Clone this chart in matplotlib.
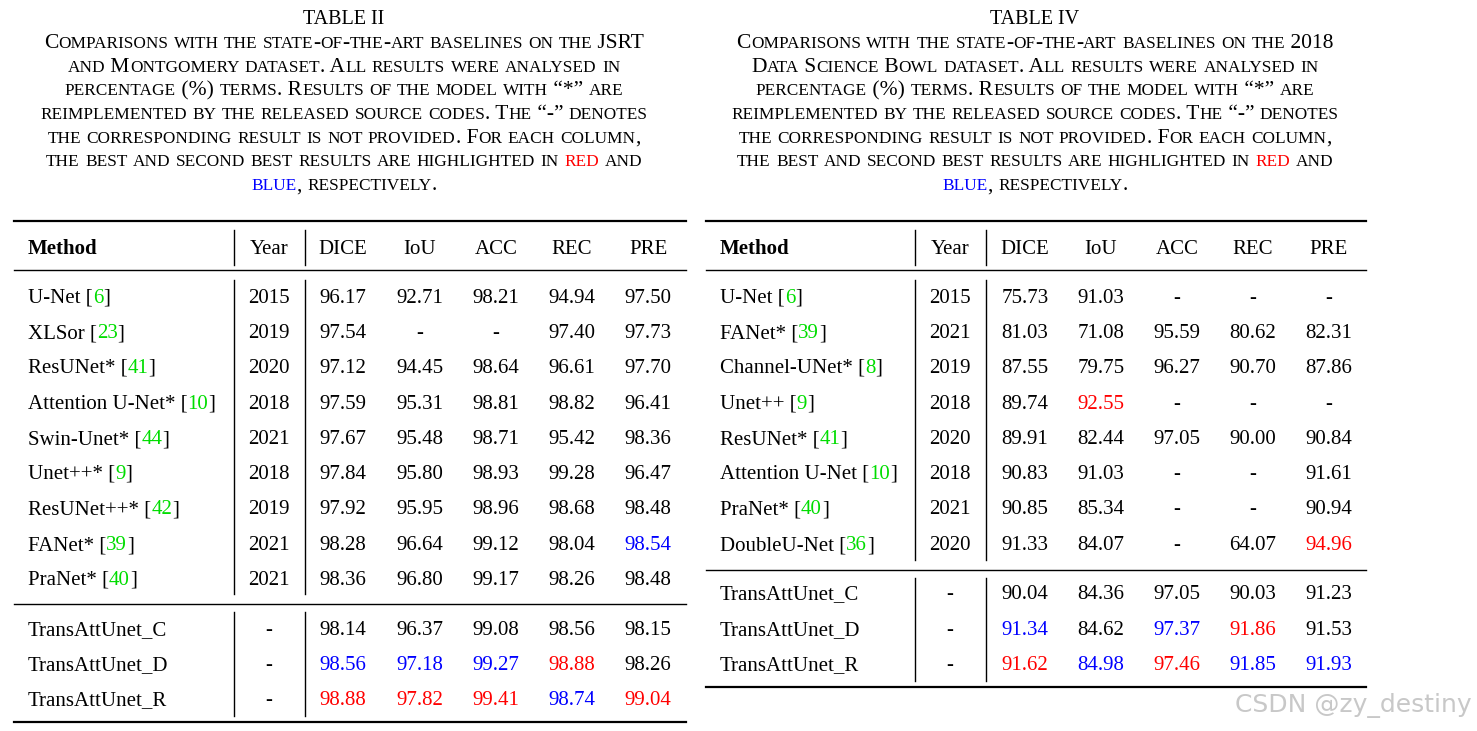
import matplotlib
matplotlib.use("Agg")
import matplotlib.pyplot as plt

plt.rcParams['font.family'] = ['Liberation Serif', 'DejaVu Serif']

RED, BLUE, GREEN = '#ff0000', '#0000ff', '#00dd00'

# ---- left table (TABLE II) ----
left_methods = [("U-Net", "6"), ("XLSor", "23"), ("ResUNet*", "41"), ("Attention U-Net*", "10"),
                ("Swin-Unet*", "44"), ("Unet++*", "9"), ("ResUNet++*", "42"), ("FANet*", "39"),
                ("PraNet*", "40"), ("TransAttUnet_C", None), ("TransAttUnet_D", None), ("TransAttUnet_R", None)]
left_years = ["2015", "2019", "2020", "2018", "2021", "2018", "2019", "2021", "2021", "-", "-", "-"]
left_vals = [["96.17", "92.71", "98.21", "94.94", "97.50"],
             ["97.54", "-", "-", "97.40", "97.73"],
             ["97.12", "94.45", "98.64", "96.61", "97.70"],
             ["97.59", "95.31", "98.81", "98.82", "96.41"],
             ["97.67", "95.48", "98.71", "95.42", "98.36"],
             ["97.84", "95.80", "98.93", "99.28", "96.47"],
             ["97.92", "95.95", "98.96", "98.68", "98.48"],
             ["98.28", "96.64", "99.12", "98.04", "98.54"],
             ["98.36", "96.80", "99.17", "98.26", "98.48"],
             ["98.14", "96.37", "99.08", "98.56", "98.15"],
             ["98.56", "97.18", "99.27", "98.88", "98.26"],
             ["98.88", "97.82", "99.41", "98.74", "99.04"]]
left_cols = ["kkkkk"] * 7 + ["kkkkb", "kkkkk", "kkkkk", "bbbrk", "rrrbr"]

# ---- right table (TABLE IV) ----
right_methods = [("U-Net", "6"), ("FANet*", "39"), ("Channel-UNet*", "8"), ("Unet++", "9"),
                 ("ResUNet*", "41"), ("Attention U-Net", "10"), ("PraNet*", "40"), ("DoubleU-Net", "36"),
                 ("TransAttUnet_C", None), ("TransAttUnet_D", None), ("TransAttUnet_R", None)]
right_years = ["2015", "2021", "2019", "2018", "2020", "2018", "2021", "2020", "-", "-", "-"]
right_vals = [["75.73", "91.03", "-", "-", "-"],
              ["81.03", "71.08", "95.59", "80.62", "82.31"],
              ["87.55", "79.75", "96.27", "90.70", "87.86"],
              ["89.74", "92.55", "-", "-", "-"],
              ["89.91", "82.44", "97.05", "90.00", "90.84"],
              ["90.83", "91.03", "-", "-", "91.61"],
              ["90.85", "85.34", "-", "-", "90.94"],
              ["91.33", "84.07", "-", "64.07", "94.96"],
              ["90.04", "84.36", "97.05", "90.03", "91.23"],
              ["91.34", "84.62", "97.37", "91.86", "91.53"],
              ["91.62", "84.98", "97.46", "91.85", "91.93"]]
right_cols = ["kkkkk"] * 3 + ["krkkk"] + ["kkkkk"] * 3 + ["kkkkr", "kkkkk", "bkbrk", "rbrbb"]

headers = ["Year", "DICE", "IoU", "ACC", "REC", "PRE"]
cmap = {"k": "black", "r": RED, "b": BLUE}

cap1 = ["Comparisons with the state-of-the-art baselines on the JSRT",
        "and Montgomery dataset. All results were analysed in",
        "percentage (%) terms. Results of the model with \u201c*\u201d are",
        "reimplemented by the released source codes. The \u201c-\u201d denotes",
        "the corresponding result is not provided. For each column,",
        "the best and second best results are highlighted in |red| and",
        "|blue|, respectively."]
cap2 = ["Comparisons with the state-of-the-art baselines on the 2018",
        "Data Science Bowl dataset. All results were analysed in",
        "percentage (%) terms. Results of the model with \u201c*\u201d are",
        "reimplemented by the released source codes. The \u201c-\u201d denotes",
        "the corresponding result is not provided. For each column,",
        "the best and second best results are highlighted in |red| and",
        "|blue|, respectively."]

W, H = 1477, 731
fig = plt.figure(figsize=(W / 100, H / 100), dpi=100)
ax = fig.add_axes([0, 0, 1, 1])
ax.set_xlim(0, W)
ax.set_ylim(H, 0)
ax.axis('off')
fig.canvas.draw()
renderer = fig.canvas.get_renderer()


def width(s, size):
    t = ax.text(0, 0, s, fontsize=size)
    bb = t.get_window_extent(renderer)
    t.remove()
    return bb.width


def runs_draw(x, y, runs, ha='left'):
    ws = [width(s, sz) for s, sz, c in runs]
    if ha == 'center':
        x -= sum(ws) / 2
    for (s, sz, c), w in zip(runs, ws):
        ax.text(x, y, s, fontsize=sz, color=c, va='baseline')
        x += w


def smallcaps(line, big=15.5, small=12.4):
    runs = []
    for i, part in enumerate(line.split('|')):
        color = 'black'
        if i == 1:
            color = RED if part == 'red' else BLUE
        for ch in part:
            if ch.islower():
                r = (ch.upper(), small, color)
            else:
                r = (ch, big, color)
            if runs and runs[-1][1:] == r[1:]:
                runs[-1] = (runs[-1][0] + r[0],) + r[1:]
            else:
                runs.append(r)
    return runs


def draw_table(x0, x1, xm, xv, xcols, vx1, vx2, rows_y, lines_y,
               methods, years, vals, cols, title, cap, cx):
    ax.text(cx, 24, title, fontsize=14.5, ha='center', va='baseline')
    for i, line in enumerate(cap):
        runs_draw(cx, 48 + i * 23.7, smallcaps(line), ha='center')
    top, mid, sep, bot = lines_y
    ax.plot([x0, x1], [top, top], color='black', lw=1.6)
    ax.plot([x0, x1], [mid, mid], color='black', lw=1.0)
    ax.plot([x0, x1], [sep, sep], color='black', lw=1.0)
    ax.plot([x0, x1], [bot, bot], color='black', lw=1.6)
    for vx in (vx1, vx2):
        for a, b in [(top + 9, mid - 5), (mid + 10, sep - 10), (sep + 8, bot - 6)]:
            ax.plot([vx, vx], [a, b], color='black', lw=1.0)
    fs = 15
    ax.text(xm, 254, "Method", fontsize=fs, weight='bold', va='baseline')
    for h, hx in zip(headers, [xv] + xcols):
        ax.text(hx, 254, h, fontsize=fs, ha='center', va='baseline')
    for (name, ref), yr, row, cc, ry in zip(methods, years, vals, cols, rows_y):
        if ref:
            runs_draw(xm, ry + 6, [(name + " [", fs, 'black'), (ref, fs, GREEN), ("]", fs, 'black')])
        else:
            ax.text(xm, ry + 6, name, fontsize=fs, va='baseline')
        ax.text(xv, ry + 6, yr, fontsize=fs, ha='center', va='baseline')
        for v, c, vx in zip(row, cc, xcols):
            ax.text(vx, ry + 6, v, fontsize=fs, ha='center', va='baseline', color=cmap[c])


left_y = [297, 332, 367, 403, 438, 473, 508, 544, 579, 629, 664, 699]
right_y = [297, 332, 367, 403, 438, 473, 508, 544, 593, 629, 664]

draw_table(14, 686, 28, 269, [343, 420, 496, 572, 648], 234, 305, left_y,
           (221, 270, 604, 722), left_methods, left_years, left_vals, left_cols,
           "TABLE II", cap1, 344)
draw_table(706, 1366, 720, 950, [1025, 1101, 1177, 1253, 1329], 915, 986, right_y,
           (221, 270, 570, 687), right_methods, right_years, right_vals, right_cols,
           "TABLE IV", cap2, 1035)

ax.text(1472, 706, "CSDN @zy_destiny", fontsize=18, color='#c8c8c8', ha='right', va='center',
        family=['DejaVu Sans'])

fig.savefig("out.png", dpi=100)
